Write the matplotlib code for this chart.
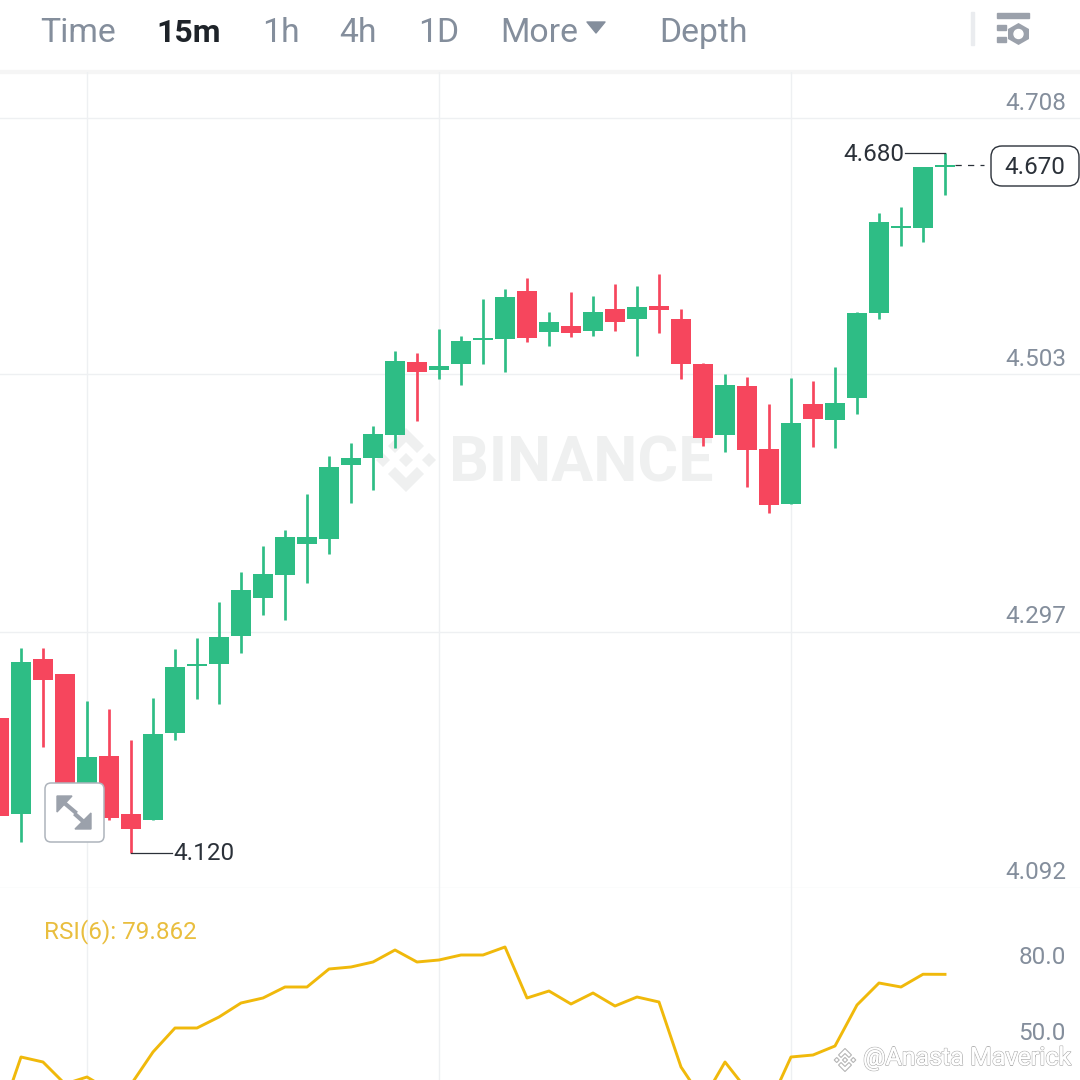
#!/usr/bin/env python3
"""Binance style 15m candlestick chart with an RSI(6) pane below."""

import matplotlib
matplotlib.use("Agg")
import matplotlib.pyplot as plt
import matplotlib.patheffects as pe
from matplotlib.patches import Circle, FancyBboxPatch, Polygon, Rectangle

plt.rcParams["font.family"] = ["Roboto", "DejaVu Sans"]

# candle values, left to right
opens = [4.2280, 4.1511, 4.2752, 4.2632, 4.1623, 4.1976, 4.1511, 4.1463, 4.2160, 4.2696, 4.2712,
         4.2936, 4.3241, 4.3425, 4.3673, 4.3713, 4.4306, 4.4362, 4.4546, 4.5130, 4.5066, 4.5114,
         4.5307, 4.5315, 4.5699, 4.5371, 4.5419, 4.5379, 4.5555, 4.5475, 4.5579, 4.5475, 4.5114,
         4.4546, 4.4938, 4.4434, 4.3993, 4.4794, 4.4666, 4.4842, 4.5523, 4.6203, 4.6203, 4.6690]
closes = [4.1495, 4.2728, 4.2584, 4.1623, 4.1968, 4.1479, 4.1391, 4.2152, 4.2688, 4.2712, 4.2929,
          4.3305, 4.3433, 4.3729, 4.3729, 4.4290, 4.4362, 4.4554, 4.5138, 4.5050, 4.5098, 4.5299,
          4.5323, 4.5651, 4.5323, 4.5451, 4.5363, 4.5531, 4.5451, 4.5571, 4.5547, 4.5114, 4.4522,
          4.4946, 4.4426, 4.3985, 4.4642, 4.4674, 4.4802, 4.5523, 4.6251, 4.6219, 4.6692, 4.6705]
highs = [4.2368, 4.2840, 4.2840, 4.2632, 4.2416, 4.2352, 4.2104, 4.2440, 4.2832, 4.2920, 4.3209,
         4.3449, 4.3657, 4.3785, 4.4074, 4.4378, 4.4482, 4.4618, 4.5219, 4.5203, 4.5395, 4.5339,
         4.5635, 4.5715, 4.5803, 4.5531, 4.5691, 4.5659, 4.5755, 4.5739, 4.5835, 4.5555, 4.5122,
         4.5034, 4.5010, 4.4794, 4.5002, 4.4978, 4.5090, 4.5531, 4.6323, 4.6372, 4.6692, 4.6800]
lows = [4.1423, 4.1287, 4.2048, 4.1583, 4.1583, 4.1463, 4.1200, 4.1463, 4.2104, 4.2432, 4.2392,
        4.2800, 4.3105, 4.3065, 4.3361, 4.3593, 4.4001, 4.4106, 4.4442, 4.4658, 4.4994, 4.4946,
        4.5114, 4.5050, 4.5291, 4.5259, 4.5331, 4.5339, 4.5379, 4.5179, 4.5363, 4.4994, 4.4458,
        4.4410, 4.4130, 4.3921, 4.3993, 4.4450, 4.4442, 4.4714, 4.5475, 4.6059, 4.6091, 4.6468]
rsi = [21.2, 46.8, 44.8, 36.0, 38.8, 33.6, 35.8, 48.8, 58.4, 58.4, 62.8, 68.4, 70.4, 74.8, 74.8,
       82.0, 82.8, 84.8, 89.6, 84.8, 85.6, 87.6, 87.6, 90.8, 70.4, 73.2, 68.0, 72.4, 67.2, 70.8,
       68.8, 42.8, 29.6, 44.8, 33.6, 27.6, 46.8, 47.6, 51.2, 67.6, 76.4, 74.8, 79.9, 79.862]

price_ticks = [4.708, 4.503, 4.297, 4.092]
rsi_ticks = [80.0, 50.0]
time_grid = [4, 20, 36]
tabs = ["Time", "15m", "1h", "4h", "1D", "More", "Depth"]
tab_x = [40, 156, 262, 339, 418, 500, 659]

GREEN = "#2EBD85"
RED = "#F6465D"
GRID = "#EEF0F2"
GREY = "#848E9C"
DARK = "#2B3139"
YELLOW = "#F0B90B"


def pixel_axes(fig, zorder):
    # full figure axes in image pixels, used for the app chrome
    ax = fig.add_axes([0, 0, 1, 1], zorder=zorder)
    ax.set_xlim(0, 1080)
    ax.set_ylim(1080, 0)
    ax.axis("off")
    return ax


def draw_logo(ax, cx, cy, scale, **style):
    for dx, dy in [(0, 0), (-23, 0), (23, 0)]:
        pts = [(0, -7), (7, 0), (0, 7), (-7, 0)]
        ax.add_patch(Polygon([(cx + (x + dx) * scale, cy + (y + dy) * scale) for x, y in pts], **style))
    for sign in [1, -1]:
        pts = [(0, -32), (18, -14), (11, -7), (0, -18), (-11, -7), (-18, -14)]
        ax.add_patch(Polygon([(cx + x * scale, cy + sign * y * scale) for x, y in pts], **style))


def main():
    fig = plt.figure(figsize=(10.8, 10.8), dpi=100, facecolor="white")
    back = pixel_axes(fig, 0)
    front = pixel_axes(fig, 5)

    # header
    for name, x in zip(tabs, tab_x):
        active = name == "15m"
        back.text(x, 33, name, fontsize=23 if active else 24.3, va="center", ha="left",
                  color="#1E2329" if active else GREY, fontweight="bold" if active else "normal")
    back.add_patch(Polygon([(587, 22), (605, 22), (596, 33)], color=GREY, joinstyle="round"))
    back.add_patch(Rectangle((971, 12), 2.5, 33, color="#EAECEF"))
    back.add_patch(Rectangle((0, 70), 1080, 2.5, color="#F5F5F5"))
    back.add_patch(Rectangle((997, 13), 32, 5, color="#9BA1AB"))
    back.add_patch(Rectangle((997, 25), 9, 5, color="#9BA1AB"))
    back.add_patch(Rectangle((997, 37), 9, 5, color="#9BA1AB"))
    back.add_patch(Polygon([(1018.5, 23), (1029, 29), (1029, 39), (1018.5, 45), (1008, 39), (1008, 29)],
                           color="#9BA1AB", linewidth=0))
    back.add_patch(Circle((1018.5, 34), 4.5, color="white"))

    # watermark sits under the candles
    draw_logo(back, 406, 460, 1.0, color="#EFF0F0", linewidth=0)
    back.text(449, 465, "BINANCE", fontsize=45, fontweight="bold", color="#EFF0F0", va="center", ha="left")

    # price pane
    ax = fig.add_axes([0, (1080 - 887.5) / 1080, 1, (887.5 - 72) / 1080], zorder=2)
    ax.patch.set_alpha(0)
    ax.set_xlim(1 / 22, 1081 / 22)
    ax.set_ylim(4.092, 4.7452)
    ax.set_xticks(time_grid)
    ax.set_yticks(price_ticks)
    ax.grid(True, color=GRID, linewidth=1)
    ax.set_axisbelow(True)
    ax.tick_params(length=0, labelleft=False, labelbottom=False)
    for spine in ax.spines.values():
        spine.set_visible(False)

    for i in range(len(opens)):
        color = GREEN if closes[i] >= opens[i] else RED
        ax.vlines(i, lows[i], highs[i], color=color, linewidth=1.95, zorder=3)
        ax.bar(i, abs(closes[i] - opens[i]), bottom=min(opens[i], closes[i]), width=0.87, color=color, zorder=3)

    for p in price_ticks:
        ax.annotate(f"{p:.3f}", xy=(1, p), xycoords=("axes fraction", "data"), xytext=(-14, 15),
                    textcoords="offset pixels", ha="right", va="center", fontsize=17.5, color=GREY)

    # high, low and last price markers
    last = len(opens) - 1
    low_i = lows.index(min(lows))
    high_i = highs.index(max(highs))
    ax.plot([low_i, low_i + 41 / 22], [min(lows)] * 2, color=DARK, linewidth=0.9, zorder=4)
    ax.annotate(f"{min(lows):.3f}", xy=(low_i + 42 / 22, min(lows)), xytext=(0, -1), textcoords="offset pixels",
                ha="left", va="center", fontsize=17.5, color=DARK)
    ax.plot([high_i - 40 / 22, high_i], [max(highs)] * 2, color=DARK, linewidth=0.9, zorder=4)
    ax.annotate(f"{max(highs):.3f}", xy=(high_i - 41 / 22, max(highs)), xytext=(0, -1), textcoords="offset pixels",
                ha="right", va="center", fontsize=17.5, color=DARK)
    ax.plot([last + 0.45, last + 1.75], [4.6705] * 2, color=DARK, linewidth=0.9, dashes=(5, 5), zorder=4)
    back.add_patch(FancyBboxPatch((991, 146), 88, 40, boxstyle="round,pad=0,rounding_size=11",
                                  facecolor="white", edgecolor=DARK, linewidth=1))
    back.text(1035, 168, "4.670", ha="center", va="center", fontsize=17.5, color=DARK)

    # RSI pane
    rx = fig.add_axes([0, 0, 1, (1080 - 888) / 1080], zorder=2)
    rx.patch.set_alpha(0)
    rx.set_xlim(1 / 22, 1081 / 22)
    rx.set_ylim(37.6, 114.4)
    rx.set_xticks(time_grid)
    rx.set_yticks([])
    rx.grid(True, axis="x", color=GRID, linewidth=1)
    rx.set_axisbelow(True)
    rx.tick_params(length=0, labelbottom=False)
    for spine in rx.spines.values():
        spine.set_visible(False)
    rx.plot(range(len(rsi)), rsi, color=YELLOW, linewidth=2.1, solid_joinstyle="round", zorder=3)
    for v in rsi_ticks:
        rx.annotate(f"{v:.1f}", xy=(1, v), xycoords=("axes fraction", "data"), xytext=(-14, 16),
                    textcoords="offset pixels", ha="right", va="center", fontsize=17.5, color=GREY)
    rx.text(44, 932, f"RSI(6): {rsi[-1]:.3f}", transform=back.transData, fontsize=17.5, color="#E9BE3E",
            ha="left", va="center")

    # expand button over the candles
    front.add_patch(FancyBboxPatch((45, 783), 59, 59, boxstyle="round,pad=0,rounding_size=6",
                                   facecolor="white", edgecolor="#AEB4BC", linewidth=1.1))
    front.add_patch(Polygon([(57, 796), (72, 796), (57, 812)], color="#9BA1AB"))
    front.plot([62, 75], [801, 812], color="#9BA1AB", linewidth=3)
    front.add_patch(Polygon([(91, 829), (75, 829), (91, 813)], color="#9BA1AB"))
    front.plot([85, 76], [823, 815], color="#9BA1AB", linewidth=3)

    # author tag in the corner
    outline = [pe.withStroke(linewidth=1.1, foreground="#B4B4B4"), pe.Normal()]
    front.text(863, 1058, "@Anasta Maverick", fontsize=18, color="white", ha="left", va="center", path_effects=outline)
    draw_logo(front, 845, 1060, 0.36, facecolor="white", edgecolor="#B4B4B4", linewidth=0.8)

    fig.savefig("out.png", dpi=100)


if __name__ == "__main__":
    main()
